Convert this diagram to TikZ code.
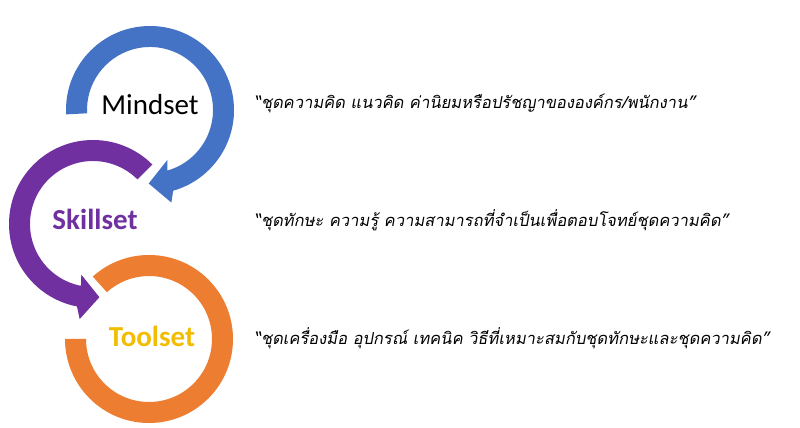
\documentclass[tikz,border=0pt]{standalone}
\usepackage{fontspec}
\setmainfont{Carlito}
\newfontfamily\thaifont[Script=Thai,FakeSlant=0.18]{Loma}
\usetikzlibrary{calc}
\definecolor{mblue}{HTML}{4472C4}
\definecolor{mpurple}{HTML}{7030A0}
\definecolor{morange}{HTML}{ED7D31}
\definecolor{mgold}{HTML}{F2BC00}
\tikzset{
  setlabel/.style={font=\fontsize{29}{32}\selectfont, anchor=base, inner sep=0pt},
  desc/.style={font=\thaifont\fontsize{16.5}{20}\selectfont, anchor=base west, inner sep=0pt}
}
\begin{document}
\begin{tikzpicture}[x=1pt,y=1pt]
\useasboundingbox (0,0) rectangle (800,428);
\fill[white] (0,0) rectangle (800,428);
\coordinate (B) at (150,318);
\coordinate (P) at (93,204);
\coordinate (O) at (149,89);
% orange ring
\fill[morange] ($(O)+(132:84)$) arc[start angle=132,end angle=-180,radius=84]
  -- ($(O)+(180:63)$) arc[start angle=-180,end angle=132,radius=63] -- cycle;
% purple arrow
\fill[mpurple] ($(P)+(45:84)$) arc[start angle=45,end angle=259,radius=84]
  -- ($(P)+(262:96)$) -- ($(P)+(275:73.5)$) -- ($(P)+(257:52)$) -- ($(P)+(259:63)$)
  arc[start angle=259,end angle=45,radius=63] -- cycle;
% blue arrow
\fill[mblue] ($(B)+(183:84)$) arc[start angle=183,end angle=-74,radius=84]
  -- ($(B)+(-77:95)$) -- ($(B)+(-91:73.5)$) -- ($(B)+(-71:53)$) -- ($(B)+(-74:63)$)
  arc[start angle=-74,end angle=183,radius=63] -- cycle;
% labels
\node[setlabel] (mind) at (150,313) {Mindset};
\node[setlabel, font=\bfseries\fontsize{29}{32}\selectfont, text=mpurple] (skill) at (95,198) {Skillset};
\node[setlabel, font=\bfseries\fontsize{29}{32}\selectfont, text=mgold] (tool) at (152,81) {Toolset};
% descriptions
\node[desc] (d1) at (254,319) {“ชุดความคิด แนวคิด ค่านิยมหรือปรัชญาขององค์กร/พนักงาน”};
\node[desc] (d2) at (254,201) {“ชุดทักษะ ความรู้ ความสามารถที่จำเป็นเพื่อตอบโจทย์ชุดความคิด”};
\node[desc] (d3) at (254,83) {“ชุดเครื่องมือ อุปกรณ์ เทคนิค วิธีที่เหมาะสมกับชุดทักษะและชุดความคิด”};
\end{tikzpicture}
\end{document}
